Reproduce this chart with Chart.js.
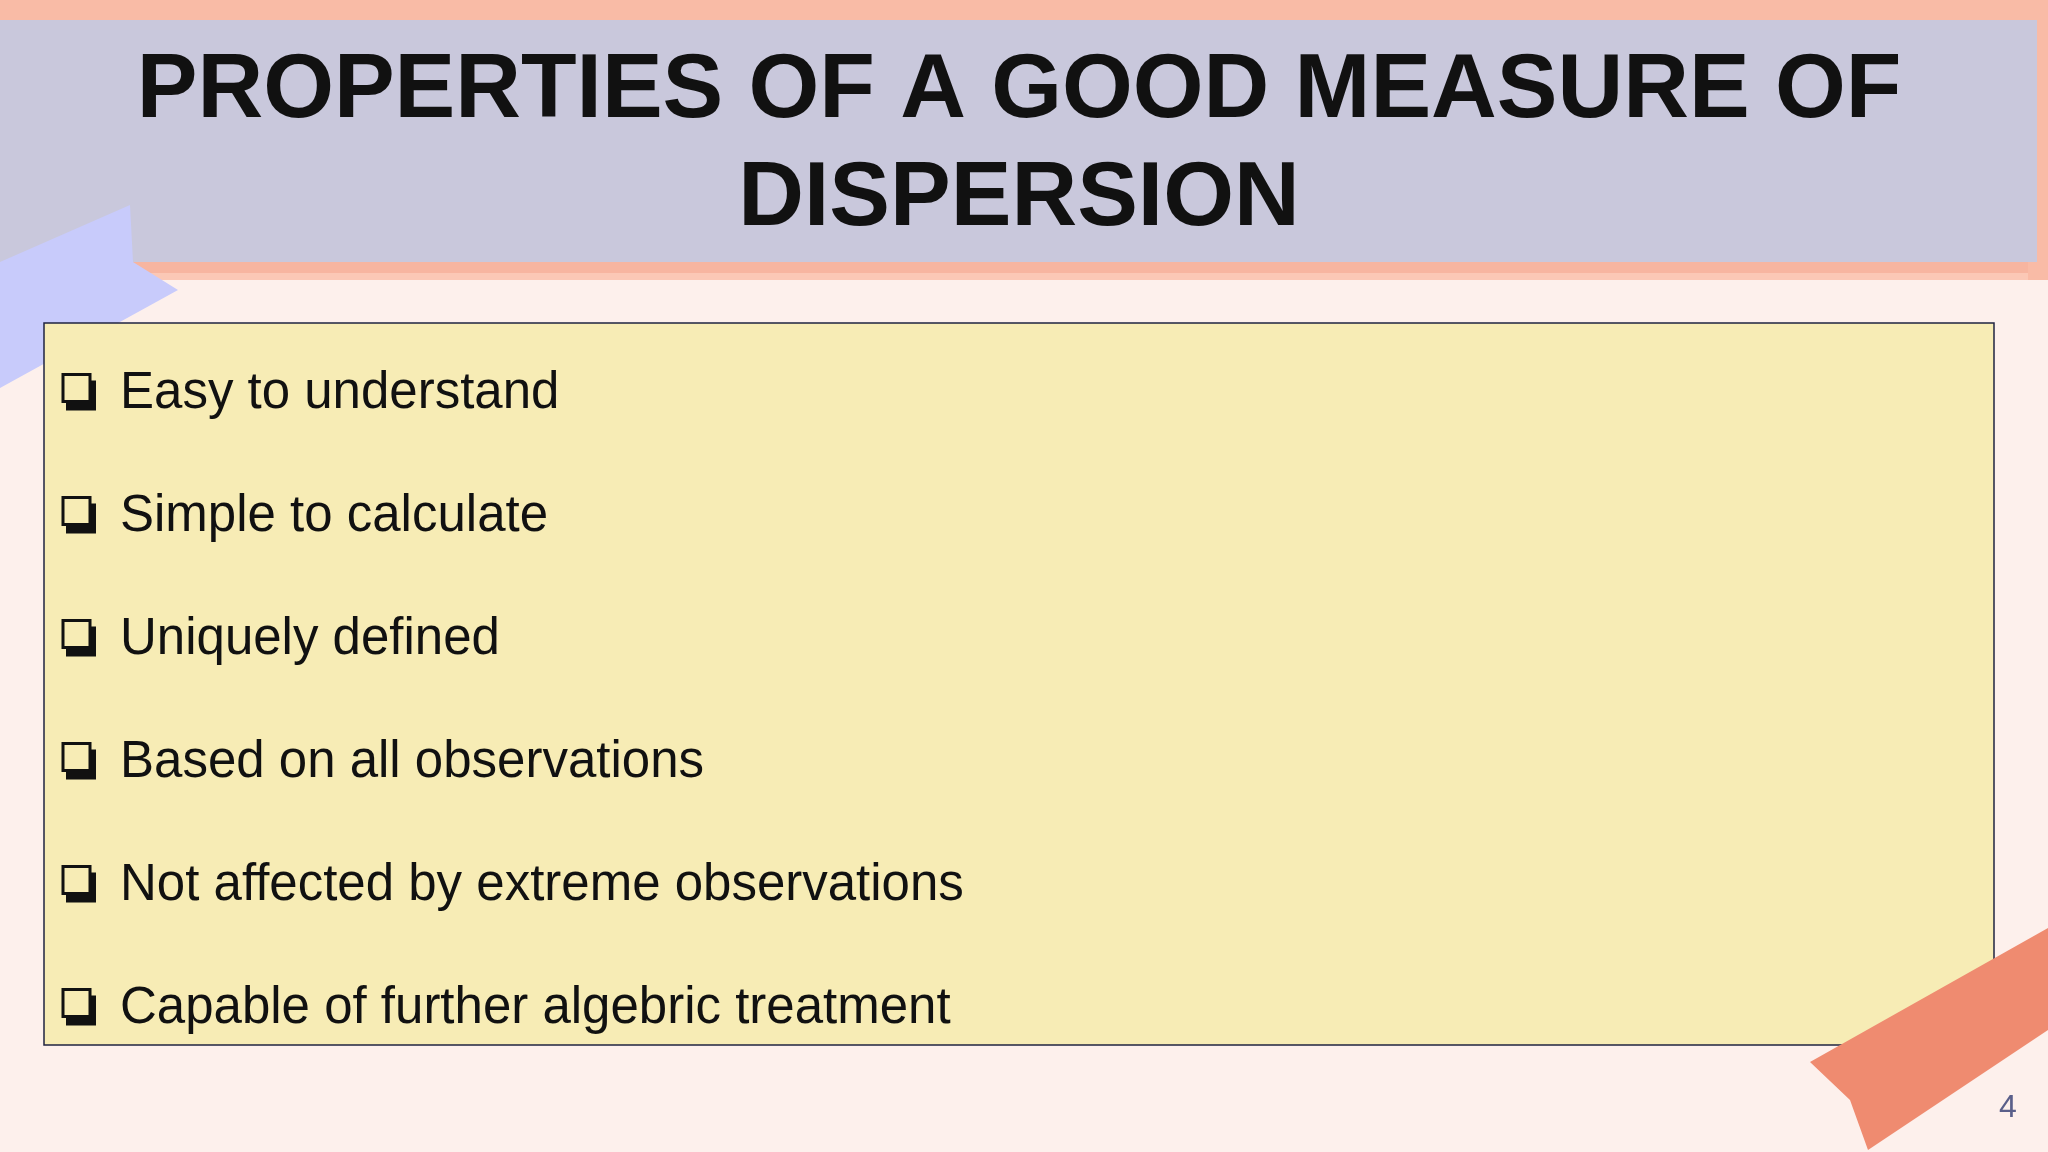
<!DOCTYPE html>
<html><head><meta charset="utf-8">
<script src="https://cdn.jsdelivr.net/npm/chart.js@4/dist/chart.umd.min.js"></script>
<style>html,body{margin:0;padding:0;background:#fdf0ec;overflow:hidden}canvas{display:block}</style>
</head><body>
<div style="width:2048px;height:1152px;position:relative"><canvas id="c"></canvas></div>
<script>
const titleLines = ["PROPERTIES OF A GOOD MEASURE OF", "DISPERSION"];
const items = ["Easy to understand", "Simple to calculate", "Uniquely defined",
  "Based on all observations", "Not affected by extreme observations", "Capable of further algebric treatment"];
const values = [0, 0, 0, 0, 0, 0];
const pageNumber = "4";

const slidePlugin = {
  id: 'slide',
  beforeDraw(chart) {
    const ctx = chart.ctx;
    ctx.save();
    ctx.fillStyle = '#fdf0ec'; ctx.fillRect(0, 0, 2048, 1152);
    ctx.fillStyle = '#f9bba6'; ctx.fillRect(0, 0, 2048, 22);
    ctx.fillStyle = '#fbc8b6'; ctx.fillRect(0, 240, 2048, 40);
    ctx.fillStyle = '#f7b5a0'; ctx.fillRect(0, 255, 2048, 18);
    ctx.fillStyle = '#f9bba6'; ctx.fillRect(2028, 20, 20, 260);
    ctx.fillStyle = '#c9c8dc'; ctx.fillRect(0, 20, 2037, 242);
    ctx.fillStyle = '#c8cbfb';
    ctx.beginPath(); ctx.moveTo(0, 262); ctx.lineTo(130, 205); ctx.lineTo(133, 262);
    ctx.lineTo(178, 290); ctx.lineTo(0, 388); ctx.closePath(); ctx.fill();
    ctx.fillStyle = '#f7ecb5'; ctx.fillRect(44, 323, 1950, 722);
    ctx.strokeStyle = '#1f2340'; ctx.lineWidth = 1.5; ctx.strokeRect(44, 323, 1950, 722);
    ctx.fillStyle = '#ef8b70';
    ctx.beginPath(); ctx.moveTo(2048, 928); ctx.lineTo(2048, 1030); ctx.lineTo(1868, 1150);
    ctx.lineTo(1850, 1100); ctx.lineTo(1810, 1062); ctx.closePath(); ctx.fill();
    ctx.fillStyle = '#111'; ctx.textAlign = 'center'; ctx.textBaseline = 'middle';
    ctx.font = 'bold 91px "Liberation Sans", Arial, sans-serif';
    ctx.fillText(titleLines[0], 1019, 92);
    ctx.fillText(titleLines[1], 1019, 200);
    ctx.fillStyle = '#5a5f8a'; ctx.font = '32px "Liberation Sans", Arial, sans-serif';
    ctx.fillText(pageNumber, 2008, 1108);
    ctx.restore();
  },
  afterDraw(chart) {
    const ctx = chart.ctx, ys = chart.scales.y;
    ctx.save();
    chart.data.labels.forEach((lab, i) => {
      const y = ys.getPixelForValue(i);
      ctx.fillStyle = '#111';
      ctx.fillRect(66, y - 13, 30, 30);
      ctx.fillStyle = '#f7ecb5'; ctx.fillRect(63, y - 19, 27, 27);
      ctx.strokeStyle = '#111'; ctx.lineWidth = 3; ctx.strokeRect(63, y - 19, 27, 27);
      ctx.fillStyle = '#111'; ctx.textAlign = 'left'; ctx.textBaseline = 'middle';
      ctx.font = '51px "Liberation Sans", Arial, sans-serif';
      ctx.fillText(lab, 120, y);
    });
    ctx.restore();
  }
};

new Chart(document.getElementById('c'), {
  type: 'bar',
  data: { labels: items, datasets: [{ data: values, backgroundColor: 'rgba(0,0,0,0)' }] },
  options: {
    indexAxis: 'y', responsive: true, maintainAspectRatio: false, animation: false,
    layout: { padding: { top: 332, bottom: 82, left: 44, right: 54 } },
    plugins: { legend: { display: false }, tooltip: { enabled: false } },
    scales: { x: { display: false, min: 0, max: 1 }, y: { display: false, offset: true } }
  },
  plugins: [slidePlugin]
});
</script>
</body></html>
